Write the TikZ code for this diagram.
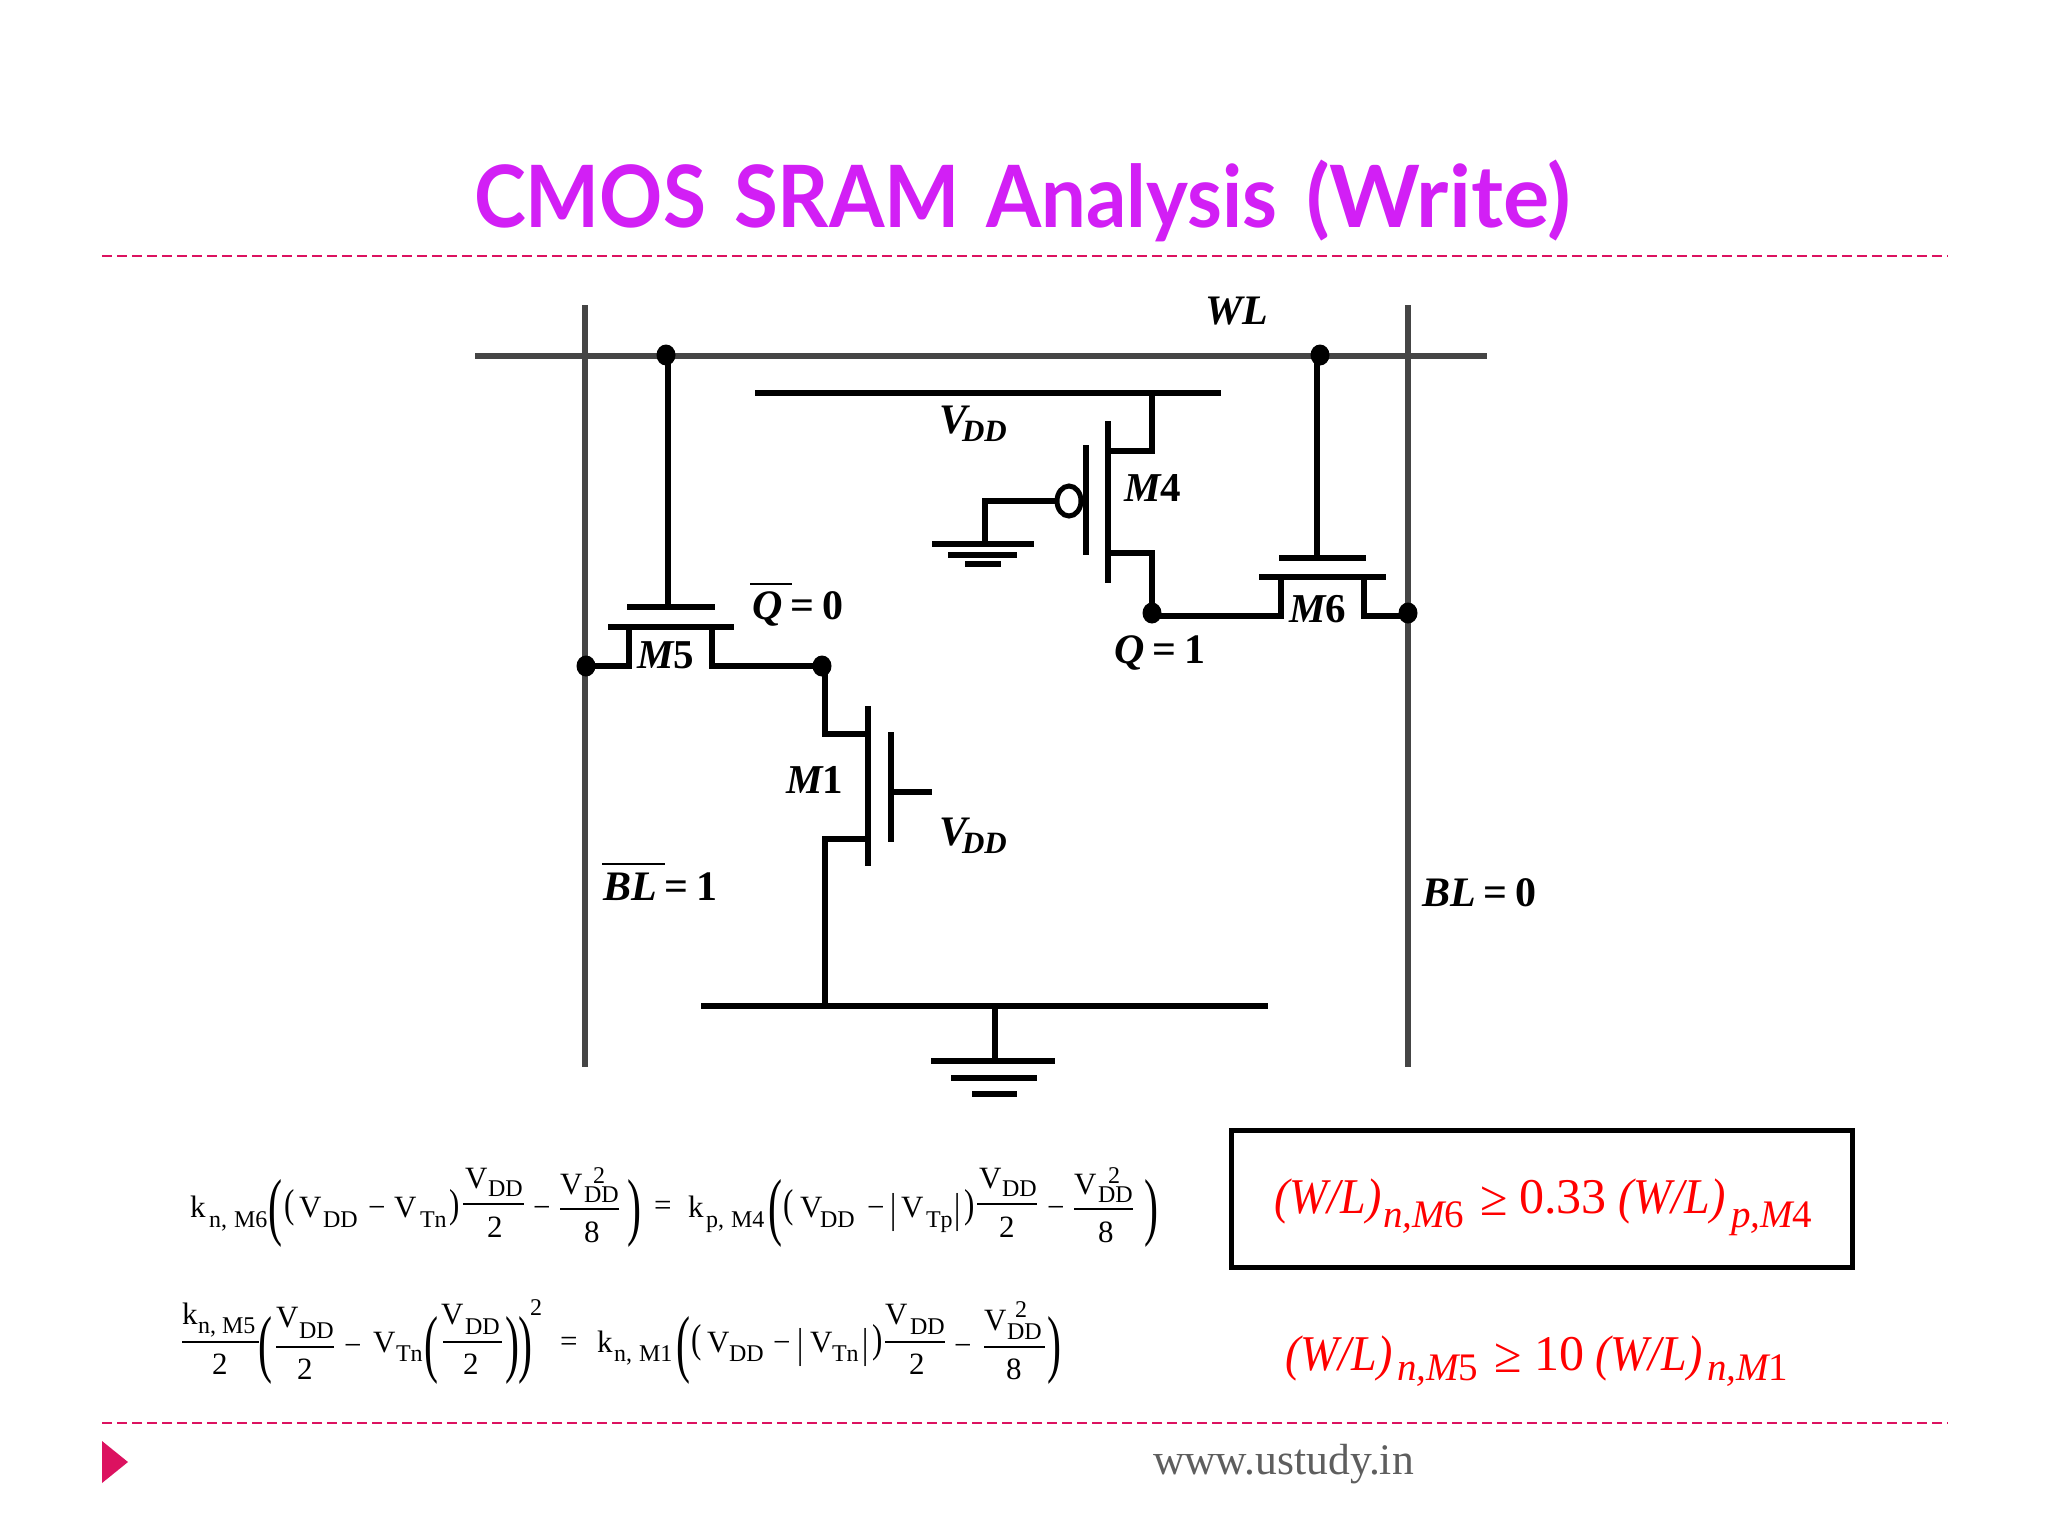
\documentclass[tikz,border=0pt]{standalone}
\usetikzlibrary{shapes.geometric}
\usepackage{fontspec}
\usepackage{graphicx}
\setmainfont{Liberation Serif}
\newfontfamily\ttlfont{Lato}
\definecolor{ttlc}{HTML}{D21FF5}
\definecolor{rulec}{HTML}{DC1260}
\definecolor{railc}{HTML}{454545}
\definecolor{footc}{HTML}{5E5E5E}
\newcounter{lb}
\newcommand\T[4]{\stepcounter{lb}\node[txt] (lb\arabic{lb}) at (#1,#2) {\fontsize{#3}{#3}\selectfont #4};}
% equation pieces
\newcommand\VV[4]{\T{#1}{#2}{15.5}{V}\T{#3}{#4}{12}{DD}}
\newcommand\BigL[2]{\T{#1}{#2}{15}{\scalebox{1.4}[2.5]{(}}}
\newcommand\BigR[2]{\T{#1}{#2}{15}{\scalebox{1.4}[2.5]{)}}}
\newcommand\FBar[3]{\draw[barline] (#1,#3) -- (#2,#3);}
\newcommand\LB[4]{\T{#1}{#2}{#3}{\bfseries\itshape #4}}
\newcommand\TL[3]{\stepcounter{lb}\node[txt,text=ttlc] (lb\arabic{lb}) at (#1,227) {\resizebox{#2pt}{\height}{\fontsize{43}{43}\selectfont\ttlfont\bfseries #3}};}
\newcommand\Tall[1]{\scalebox{1}[1.3]{#1}}
\newcommand\RW{\itshape\scalebox{0.92}[1]{(W/L)}}
\begin{document}
\begin{tikzpicture}[x=0.5pt,y=-0.5pt,
  txt/.style={anchor=base west,inner sep=0pt,outer sep=0pt},
  wire/.style={line width=3pt,black,line join=miter},
  rail/.style={line width=2.8pt,railc},
  barline/.style={line width=1.1pt,black},
  ruleline/.style={line width=1.3pt,rulec,dash pattern=on 5pt off 2.5pt},
  junction/.style={ellipse,fill=black,inner sep=0pt,minimum width=9.5pt,minimum height=10.5pt}]
\useasboundingbox (0,0) rectangle (2048,1536);
\fill[white] (0,0) rectangle (2048,1536);
% title and rules
\TL{474}{116}{CMOS}
\TL{734}{113}{SRAM}
\TL{986}{145.5}{Analysis}
\TL{1306}{132.5}{(Write)}
\draw[ruleline] (102,256) -- (1948,256);
\draw[ruleline] (102,1423) -- (1948,1423);
\fill[rulec] (102,1441) -- (128,1462) -- (102,1483) -- cycle;
% rails
\draw[rail] (475,356) -- (1487,356);
\draw[rail] (585,305) -- (585,1067);
\draw[rail] (1408,305) -- (1408,1067);
% junctions
\node[junction] (jA) at (666,355) {};
\node[junction] (jB) at (1320,355) {};
\node[junction] (jC) at (586,666) {};
\node[junction] (jD) at (822,666) {};
\node[junction] (jE) at (1152,613) {};
\node[junction] (jF) at (1408,613) {};
% VDD and ground bus
\draw[wire] (755,393) -- (1221,393);
\draw[wire] (701,1006) -- (1268,1006);
% M5
\coordinate (m5g) at (668,607);
\draw[wire] (668,357) -- (m5g);
\draw[wire] (627,607) -- (715,607);
\draw[wire] (608,627) -- (734,627);
\draw[wire] (jC.center) -- (629,666) -- (629,627);
\draw[wire] (712,627) -- (712,666) -- (jD.center);
% M1
\draw[wire] (825,666) -- (825,734) -- (868,734);
\draw[wire] (868,706) -- (868,866);
\draw[wire] (891,732) -- (891,842);
\draw[wire] (891,792) -- (932,792);
\draw[wire] (868,839) -- (825,839) -- (825,1006);
% M4
\draw[wire] (1152,393) -- (1152,451) -- (1108,451);
\draw[wire] (1108,421) -- (1108,583);
\draw[wire] (1086,445) -- (1086,555);
\draw[wire] (1108,553) -- (1152,553) -- (jE.center);
\node[draw=black,line width=2.5pt,ellipse,inner sep=0pt,minimum width=12pt,minimum height=15pt] (bub) at (1069,501) {};
\draw[wire] (bub.west) -- (985,501) -- (985,544);
\draw[wire] (932,544) -- (1034,544);
\draw[wire] (948,555) -- (1017,555);
\draw[wire] (965,564) -- (1001,564);
% M6
\draw[wire] (1317,357) -- (1317,558);
\draw[wire] (1279,558) -- (1366,558);
\draw[wire] (1259,577) -- (1386,577);
\draw[wire] (1152,616) -- (1281,616) -- (1281,577);
\draw[wire] (1364,577) -- (1364,616) -- (1408,616);
% bottom ground
\draw[wire] (995,1006) -- (995,1061);
\draw[wire] (931,1061) -- (1055,1061);
\draw[wire] (951,1078) -- (1037,1078);
\draw[wire] (972,1094) -- (1017,1094);
% circuit labels
\LB{1205}{324}{21}{WL}
\LB{939}{433}{21}{V}\LB{962}{441}{15.5}{DD}
\LB{1124}{501}{20.5}{M{\upshape 4}}
\LB{1289}{622}{20.5}{M{\upshape 6}}
\LB{637}{668}{20.5}{M{\upshape 5}}
\LB{786}{793}{20.5}{M{\upshape 1}}
\LB{939}{845}{21}{V}\LB{962}{853}{15.5}{DD}
\LB{1114}{663}{21}{Q{\upshape\hspace{4pt}=\hspace{4pt}1}}
\LB{752}{619}{21}{Q{\upshape\hspace{4pt}=\hspace{4pt}0}}
\draw[line width=1.2pt] (750,584) -- (792,584);
\LB{603}{900}{21}{BL{\upshape\hspace{4pt}=\hspace{4pt}1}}
\draw[line width=1.2pt] (602,864) -- (665,864);
\LB{1422}{906}{21}{BL{\upshape\hspace{4pt}=\hspace{4pt}0}}
% equation 1
\T{190}{1217}{15.5}{k}\T{209}{1227}{12}{n,}\T{234}{1227}{12}{M6}
\BigL{268}{1231}
\T{284}{1217}{15.5}{\Tall{(}}\VV{299}{1217}{323}{1227}
\T{368}{1217}{15.5}{−}
\T{394}{1217}{15.5}{V}\T{420}{1227}{12}{Tn}\T{449}{1217}{15.5}{\Tall{)}}
\FBar{463}{524}{1204}\VV{465}{1188}{488}{1196}\T{487}{1237}{15.5}{2}
\T{533}{1217}{15.5}{−}
\FBar{560}{619}{1209}\VV{560}{1194}{584}{1202}\T{593}{1183}{12}{2}\T{584}{1242}{15.5}{8}
\BigR{627}{1231}
\T{654}{1215}{15.5}{=}
\T{688}{1217}{15.5}{k}\T{706}{1227}{12}{p,}\T{731}{1227}{12}{M4}
\BigL{768}{1231}
\T{783}{1217}{15.5}{\Tall{(}}\VV{800}{1217}{820}{1227}
\T{867}{1217}{15.5}{−}
\T{890}{1222}{15.5}{\scalebox{1}[1.35]{|}}\T{901}{1217}{15.5}{V}\T{926}{1227}{12}{Tp}\T{954}{1222}{15.5}{\scalebox{1}[1.35]{|}}\T{964}{1217}{15.5}{\Tall{)}}
\FBar{977}{1037}{1204}\VV{979}{1188}{1002}{1196}\T{999}{1237}{15.5}{2}
\T{1047}{1217}{15.5}{−}
\FBar{1074}{1133}{1209}\VV{1074}{1194}{1098}{1202}\T{1108}{1183}{12}{2}\T{1098}{1242}{15.5}{8}
\BigR{1144}{1231}
% equation 2
\FBar{182}{259}{1342}
\T{182}{1324}{15.5}{k}\T{198}{1333}{12}{n,}\T{222}{1333}{12}{M5}\T{212}{1374}{15.5}{2}
\BigL{258}{1368}
\FBar{276}{334}{1347}\VV{276}{1327}{299}{1338}\T{297}{1379}{15.5}{2}
\T{344}{1355}{15.5}{−}
\T{373}{1352}{15.5}{V}\T{396}{1361}{12}{Tn}
\BigL{424}{1368}
\FBar{443}{502}{1342}\VV{441}{1324}{465}{1334}\T{463}{1374}{15.5}{2}
\BigR{505}{1368}\BigR{518}{1368}
\T{530}{1315}{12}{2}
\T{560}{1351}{15.5}{=}
\T{597}{1352}{15.5}{k}\T{614}{1361}{12}{n,}\T{639}{1361}{12}{M1}
\BigL{676}{1368}
\T{691}{1352}{15.5}{\Tall{(}}\VV{707}{1352}{729}{1361}
\T{773}{1352}{15.5}{−}
\T{797}{1357}{15.5}{\scalebox{1}[1.35]{|}}\T{810}{1352}{15.5}{V}\T{832}{1361}{12}{Tn}\T{862}{1357}{15.5}{\scalebox{1}[1.35]{|}}\T{872}{1352}{15.5}{\Tall{)}}
\FBar{885}{945}{1342}\VV{885}{1324}{910}{1334}\T{909}{1374}{15.5}{2}
\T{954}{1355}{15.5}{−}
\FBar{984}{1045}{1347}\VV{984}{1330}{1007}{1339}\T{1015}{1317}{12}{2}\T{1006}{1379}{15.5}{8}
\BigR{1047}{1368}
% result box
\draw[line width=2.5pt,black] (1231,1130) rectangle (1852,1267);
\begin{scope}[text=red]
\T{1274}{1213}{25}{\RW}
\T{1383}{1227}{19.5}{\itshape n,M{\upshape 6}}
\T{1480}{1215}{25}{≥}
\T{1519}{1213}{25}{0.33}
\T{1618}{1213}{25}{\RW}
\T{1731}{1227}{19.5}{\itshape p,M{\upshape 4}}
\T{1285}{1370}{25}{\RW}
\T{1397}{1380}{19.5}{\itshape n,M{\upshape 5}}
\T{1494}{1372}{25}{≥}
\T{1534}{1370}{25}{10}
\T{1595}{1370}{25}{\RW}
\T{1707}{1380}{19.5}{\itshape n,M{\upshape 1}}
\end{scope}
\T{1153}{1474}{21.8}{\color{footc}www.ustudy.in}
\end{tikzpicture}
\end{document}
